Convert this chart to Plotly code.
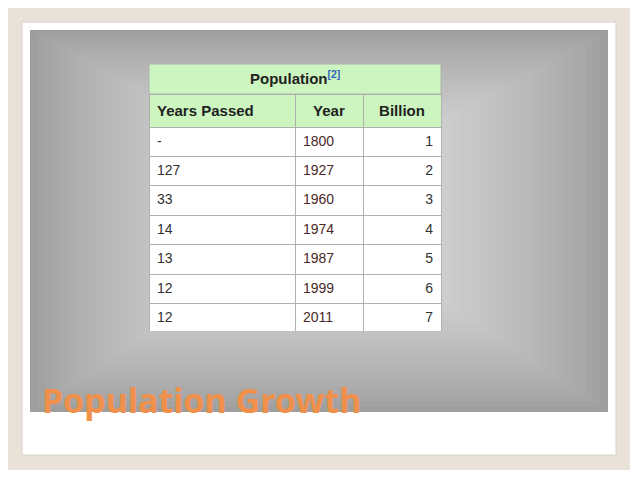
import plotly.graph_objects as go

W, H = 622, 462
OFF = 8  # page margin of the browser

years_passed = ["-", "127", "33", "14", "13", "12", "12"]
year = ["1800", "1927", "1960", "1974", "1987", "1999", "2011"]
billion = ["1", "2", "3", "4", "5", "6", "7"]
col_headers = ["Years Passed", "Year", "Billion"]
table_title = "Population<sup><span style='color:#3366bb'>[2]</span></sup>"
slide_title = "Population Growth"


def px(x):
    return (x - OFF) / W


def py(y):
    return 1 - (y - OFF) / H


fig = go.Figure()
shapes = []
# white card
shapes.append(dict(type="rect", xref="paper", yref="paper", x0=px(22), x1=px(616),
                   y0=py(455), y1=py(22), fillcolor="white",
                   line=dict(color="#d8d2c8", width=1), layer="below"))
# gray box with fake radial gradient
steps = 40
for i in range(steps):
    t = i / (steps - 1)
    g = int(158 + (236 - 158) * (t ** 0.8))
    dx, dy = 290 * t, 180 * t
    x0, x1 = 30 + dx, 608 - dx
    y0, y1 = 30 + dy * 0.9, 412 - dy * 1.1
    shapes.append(dict(type="rect", xref="paper", yref="paper", x0=px(x0), x1=px(x1),
                       y0=py(y1), y1=py(y0), fillcolor=f"rgb({g},{g},{g})",
                       line=dict(width=0), layer="below"))
# table title row
shapes.append(dict(type="rect", xref="paper", yref="paper", x0=px(149), x1=px(441),
                   y0=py(94), y1=py(64), fillcolor="#ccf5c0",
                   line=dict(color="#b0b0b0", width=1)))

fig.add_trace(go.Table(
    domain=dict(x=[px(149), px(441)], y=[py(331), py(94)]),
    columnwidth=[146, 68, 78],
    header=dict(values=[f"<b>{h}</b>" for h in col_headers],
                fill_color="#ccf5c0", line_color="#b0b0b0", height=30,
                align=["left", "center", "center"],
                font=dict(family="Liberation Sans, Arial", size=15, color="#222")),
    cells=dict(values=[years_passed, year, billion],
               fill_color="white", line_color="#b0b0b0", height=29.4,
               align=["left", "left", "right"],
               font=dict(family="Liberation Sans, Arial", size=14,
                         color=["#333", "#4a2828", "#333"])),
))

fig.add_annotation(x=px(295), y=py(78), xref="paper", yref="paper", showarrow=False,
                   yanchor="middle", text=f"<b>{table_title}</b>",
                   font=dict(family="Liberation Sans, Arial", size=15, color="#222"))
fig.add_annotation(x=px(40), y=py(400), xref="paper", yref="paper", showarrow=False,
                   xanchor="left", yanchor="middle", text=f"<b>{slide_title}</b>",
                   font=dict(family="Noto Sans", size=34, color="#f0904a"))

fig.update_layout(width=W, height=H, margin=dict(l=0, r=0, t=0, b=0),
                  paper_bgcolor="#e8e2d8", plot_bgcolor="#e8e2d8", shapes=shapes,
                  xaxis=dict(visible=False), yaxis=dict(visible=False))
fig.write_html("out.html")
